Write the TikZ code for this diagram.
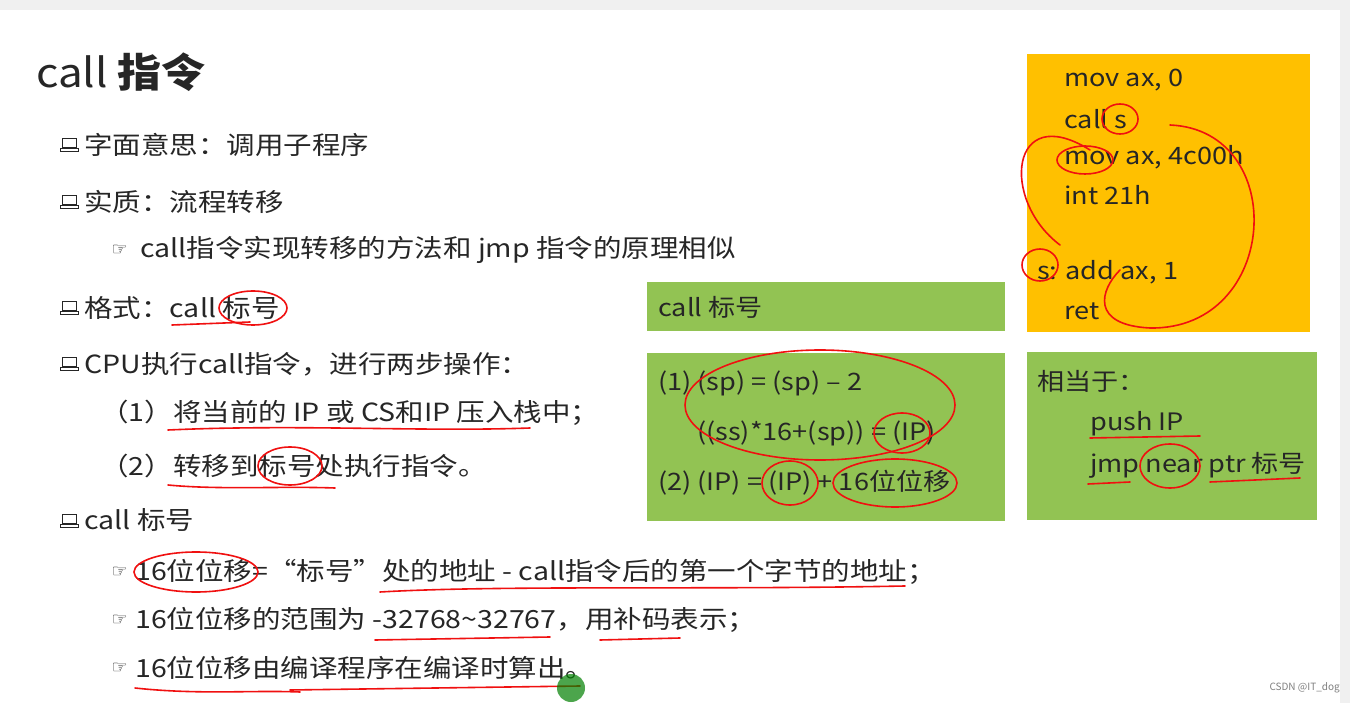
\documentclass[tikz,border=0pt]{standalone}
\usepackage{fontspec}
\setmainfont{Noto Sans CJK SC}
\newfontfamily\symfont{DejaVu Sans}
\definecolor{grn}{HTML}{92C353}
\definecolor{org}{HTML}{FFC000}
\definecolor{txt}{HTML}{262626}
\definecolor{pen}{HTML}{F01010}
\tikzset{
 body/.style={anchor=west,inner sep=0pt,text=txt,xscale=1.14,font=\fontsize{25}{28}\selectfont},
 boxt/.style={anchor=west,inner sep=0pt,text=txt,xscale=1.13,font=\fontsize{24}{27}\selectfont},
 gbox/.style={fill=grn,draw=none},
 ink/.style={draw=pen,line width=1.6pt,line cap=round},
}
\newcommand{\lap}[1]{\draw[txt,line width=1pt] ($(#1)+(-7,-6)$) rectangle ($(#1)+(7,3)$); \draw[txt,line width=1pt] ($(#1)+(-9,4)$) -- ($(#1)+(9,4)$) -- ($(#1)+(9,7)$) -- ($(#1)+(-9,7)$) -- cycle;}
\usetikzlibrary{calc}
\begin{document}
\begin{tikzpicture}[x=1pt,y=-1pt]
\useasboundingbox (0,0) rectangle (1350,703);
\fill[gray!12] (0,0) rectangle (1350,703);
\fill[white] (0,10) rectangle (1340,703);
\node[anchor=west,inner sep=0pt,text=txt,xscale=1.1,font=\fontsize{40}{44}\selectfont] (title) at (36,72) {call \textbf{指令}};
% bullets
\foreach \y/\n in {145/a,202/b,308/c,364/d,520/e}{\coordinate (i\n) at (69,\y); \lap{i\n}}
\node[body] (t1) at (84,145) {字面意思：调用子程序};
\node[body] (t2) at (84,202) {实质：流程转移};
\node[body] (t3) at (140,250) {call指令实现转移的方法和 jmp 指令的原理相似};
\node[body] (t4) at (84,308) {格式：call 标号};
\node[body] (t5) at (84,364) {CPU执行call指令，进行两步操作：};
\node[body] (t6) at (100,413) {（1）将当前的 IP 或 CS和IP 压入栈中；};
\node[body] (t7) at (100,466) {（2）转移到标号处执行指令。};
\node[body] (t8) at (84,520) {call 标号};
\node[body] (t9) at (135,572) {16位位移=“标号”处的地址 - call指令后的第一个字节的地址；};
\node[body] (t10) at (135,620) {16位位移的范围为 -32768\textasciitilde 32767，用补码表示；};
\node[body] (t11) at (135,668) {16位位移由编译程序在编译时算出。};
\foreach \y in {250,572,620,668}{\node[anchor=east,inner sep=0pt,text=txt,font=\symfont\fontsize{18}{20}\selectfont] at (128,\y) {☞};}
% boxes
\fill[gbox] (647,282) rectangle (1005,331);
\node[boxt] (g1) at (658,307) {call 标号};
\fill[gbox] (647,353) rectangle (1005,521);
\node[boxt] (g2) at (658,383) {(1) (sp) = (sp) – 2};
\node[boxt] (g3) at (697,433) {((ss)*16+(sp)) = (IP)};
\node[boxt] (g4) at (658,483) {(2) (IP) = (IP) + 16位位移};
\fill[gbox] (1027,352) rectangle (1317,520);
\node[boxt] (h1) at (1037,381) {相当于：};
\node[boxt] (h2) at (1090,424) {push IP};
\node[boxt] (h3) at (1090,465) {jmp near ptr 标号};
\fill[org] (1027,54) rectangle (1310,332);
\node[boxt] (o1) at (1064,80) {mov ax, 0};
\node[boxt] (o2) at (1064,119) {call s};
\node[boxt] (o3) at (1064,157) {mov ax, 4c00h};
\node[boxt] (o4) at (1064,195) {int 21h};
\node[boxt] (o5) at (1037,272) {s: add ax, 1};
\node[boxt] (o6) at (1064,311) {ret};
\node[anchor=east,inner sep=0pt,text=gray,font=\fontsize{10}{12}\selectfont] (wm) at (1340,688) {CSDN @IT\_dog};
% annotations
\draw[ink] (253,308) ellipse (34 and 17);
\draw[ink] (172,325) -- (250,322);
\draw[ink] (168,430) .. controls (300,424) and (420,432) .. (530,428);
\draw[ink] (290,466) ellipse (32 and 19);
\draw[ink] (168,485) .. controls (220,490) and (280,486) .. (335,488);
\draw[ink] (196,572) ellipse (62 and 20);
\draw[ink] (380,592) .. controls (500,585) and (700,590) .. (905,586);
\draw[ink] (375,640) -- (550,637);
\draw[ink] (600,640) -- (680,638);
\draw[ink] (135,688) .. controls (200,695) and (250,690) .. (300,692);
\draw[ink] (290,690) -- (580,686);
\draw[ink] (820,405) ellipse (135 and 55);
\draw[ink] (902,433) ellipse (28 and 20);
\draw[ink] (790,483) ellipse (28 and 22);
\draw[ink] (895,483) ellipse (62 and 24);
\draw[ink] (1120,119) ellipse (18 and 15);
\draw[ink] (1085,160) ellipse (28 and 14);
\draw[ink] (1040,265) ellipse (18 and 16);
\draw[ink] (1170,125) .. controls (1290,130) and (1280,330) .. (1150,328) .. controls (1090,325) and (1100,290) .. (1120,270);
\draw[ink] (1060,245) .. controls (1000,200) and (1010,100) .. (1090,150);
\draw[ink] (1090,438) -- (1200,436);
\draw[ink] (1170,466) ellipse (30 and 22);
\draw[ink] (1088,484) -- (1130,482);
\draw[ink] (1210,482) -- (1300,478);
\fill[green!50!black,opacity=.7] (571,688) circle (14);
\end{tikzpicture}
\end{document}
